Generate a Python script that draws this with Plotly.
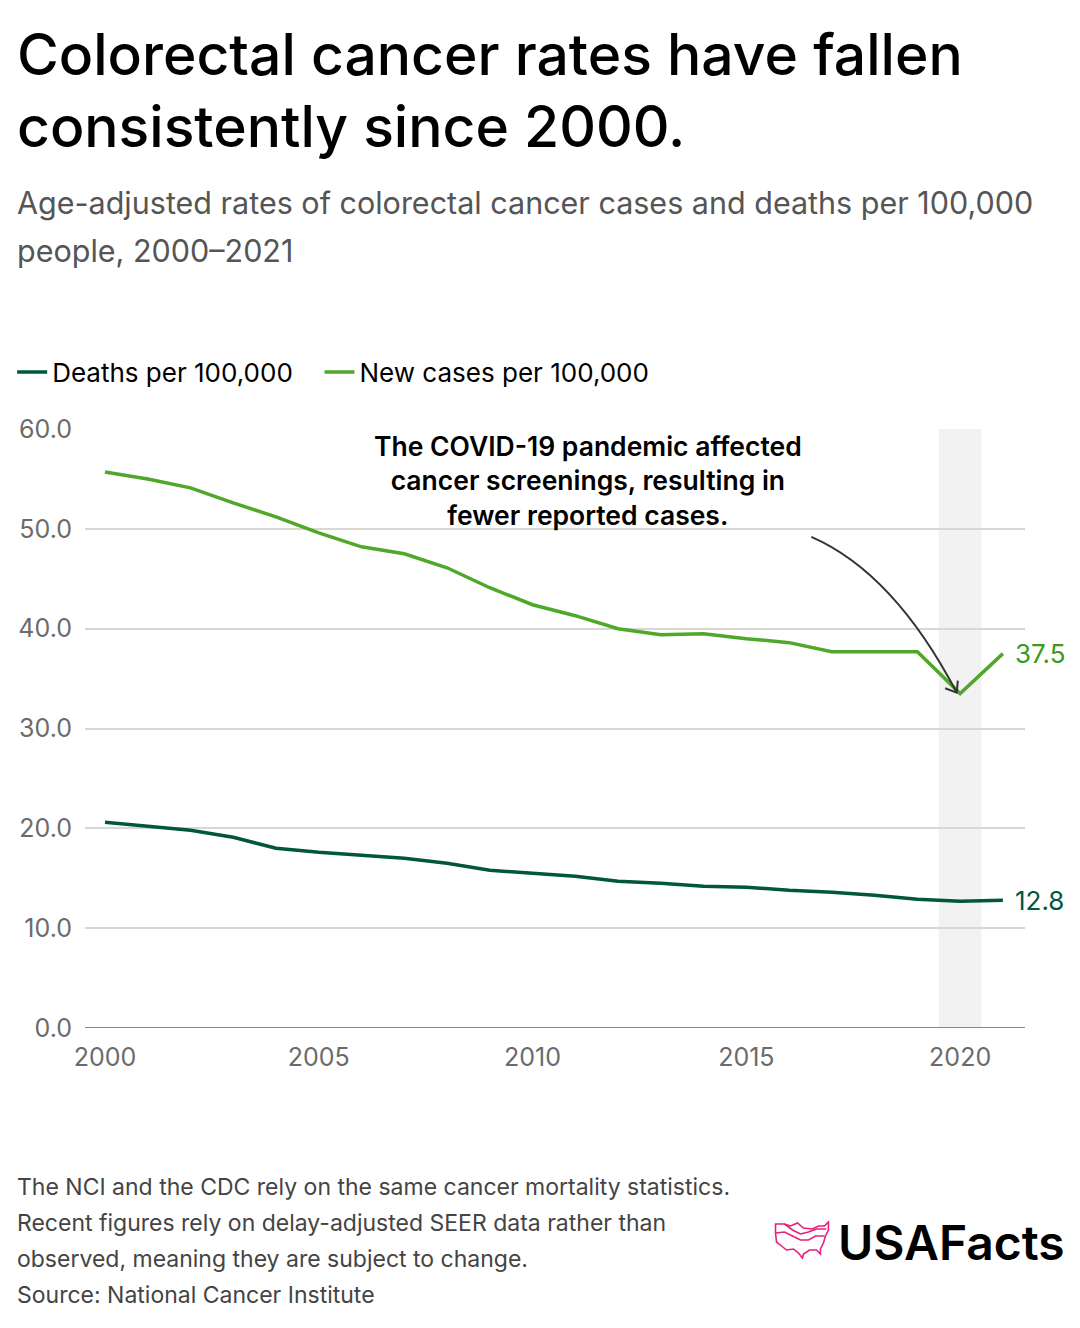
import plotly.graph_objects as go

years = list(range(2000, 2022))
new_cases = [55.7, 55.0, 54.1, 52.6, 51.2, 49.6, 48.2, 47.5, 46.1, 44.1, 42.4,
             41.3, 40.0, 39.4, 39.5, 39.0, 38.6, 37.7, 37.7, 37.7, 33.5, 37.5]
deaths = [20.6, 20.2, 19.8, 19.1, 18.0, 17.6, 17.3, 17.0, 16.5, 15.8, 15.5,
          15.2, 14.7, 14.5, 14.2, 14.1, 13.8, 13.6, 13.3, 12.9, 12.7, 12.8]
y_ticks = [0, 10, 20, 30, 40, 50, 60]
x_ticks = [2000, 2005, 2010, 2015, 2020]

title_lines = ["Colorectal cancer rates have fallen", "consistently since 2000."]
subtitle_lines = ["Age-adjusted rates of colorectal cancer cases and deaths per 100,000",
                  "people, 2000–2021"]
footer_lines = ["The NCI and the CDC rely on the same cancer mortality statistics.",
                "Recent figures rely on delay-adjusted SEER data rather than",
                "observed, meaning they are subject to change.",
                "Source: National Cancer Institute"]
note_text = "The COVID-19 pandemic affected<br>cancer screenings, resulting in<br>fewer reported cases."

FONT = "Inter"
DEATH_C = "#00573D"
CASE_C = "#4FA829"
CASE_LABEL_C = "#3B9A1C"

W, H = 1080, 1328
L, R, T, B = 83, 1025, 429, 1028  # plot area pixels


def px(x):
    return (x - L) / (R - L)


def py(y):
    return (B - y) / (B - T)


fig = go.Figure()
fig.add_trace(go.Scatter(x=years, y=deaths, mode="lines", name="Deaths per 100,000",
                         line=dict(color=DEATH_C, width=3.5), cliponaxis=False, legend="legend"))
fig.add_trace(go.Scatter(x=years, y=new_cases, mode="lines", name="New cases per 100,000",
                         line=dict(color=CASE_C, width=3.5), cliponaxis=False, legend="legend2"))

annotations = []
for i, t in enumerate(title_lines):
    annotations.append(dict(text=t, x=px(13), y=py(54 + 72 * i), xref="paper", yref="paper",
                            xanchor="left", yanchor="middle", showarrow=False,
                            font=dict(family=FONT, size=57, color="#000000", weight=500)))
for i, t in enumerate(subtitle_lines):
    annotations.append(dict(text=t, x=px(13), y=py(203 + 47 * i), xref="paper", yref="paper",
                            xanchor="left", yanchor="middle", showarrow=False,
                            font=dict(family=FONT, size=30.5, color="#555555")))
for i, t in enumerate(footer_lines):
    annotations.append(dict(text=t, x=px(13), y=py(1187 + 36 * i), xref="paper", yref="paper",
                            xanchor="left", yanchor="middle", showarrow=False,
                            font=dict(family=FONT, size=23, color="#444444")))
annotations.append(dict(text=note_text, x=2011.3, y=py(480), xref="x", yref="paper",
                        xanchor="center", yanchor="middle", showarrow=False, align="center",
                        font=dict(family=FONT, size=26.5, color="#000000", weight=600)))
annotations.append(dict(text=f"{new_cases[-1]:.1f}", x=years[-1], y=new_cases[-1], xref="x", yref="y",
                        xanchor="left", yanchor="middle", xshift=10, showarrow=False,
                        font=dict(family=FONT, size=26, color=CASE_LABEL_C)))
annotations.append(dict(text=f"{deaths[-1]:.1f}", x=years[-1], y=deaths[-1], xref="x", yref="y",
                        xanchor="left", yanchor="middle", xshift=10, showarrow=False,
                        font=dict(family=FONT, size=26, color=DEATH_C)))
annotations.append(dict(text="USAFacts", x=px(836), y=py(1242), xref="paper", yref="paper",
                        xanchor="left", yanchor="middle", showarrow=False,
                        font=dict(family=FONT, size=48, color="#000000", weight=600)))

shapes = []
shapes.append(dict(type="rect", xref="x", yref="paper", x0=2019.5, x1=2020.5, y0=0, y1=1,
                   fillcolor="#F2F2F2", line=dict(width=0), layer="below"))
shapes.append(dict(type="path", xref="x", yref="y",
                   path="M 2016.52,49.2 Q 2018.45,45.6 2019.92,33.6",
                   line=dict(color="#333333", width=2)))
shapes.append(dict(type="path", xref="x", yref="y",
                   path="M 2019.65,34.03 L 2019.92,33.59 L 2019.946,34.79",
                   line=dict(color="#333333", width=2)))


def ppath(points, close=False):
    s = "M " + " L ".join(f"{px(x):.5f},{py(y):.5f}" for x, y in points)
    return s + (" Z" if close else "")


outline = [(775, 1224), (784, 1224), (790, 1226), (797, 1223), (803, 1228), (812, 1229),
           (818, 1226), (824, 1226), (828, 1222), (828, 1230), (825, 1236), (823, 1243),
           (820, 1249), (820, 1254), (816, 1250), (809, 1250), (803, 1254), (802, 1258),
           (798, 1253), (793, 1249), (786, 1250), (781, 1246), (776, 1242), (775, 1233)]
shapes.append(dict(type="path", xref="paper", yref="paper", path=ppath(outline, True),
                   line=dict(color="#E8207E", width=1.6)))
wave1 = [(775, 1233), (784, 1232), (792, 1236), (800, 1240), (808, 1240), (815, 1236), (824, 1236)]
wave2 = [(784, 1224), (792, 1230), (800, 1234), (808, 1232), (816, 1229), (826, 1229)]
shapes.append(dict(type="path", xref="paper", yref="paper", path=ppath(wave1),
                   line=dict(color="#E8207E", width=1.6)))
shapes.append(dict(type="path", xref="paper", yref="paper", path=ppath(wave2),
                   line=dict(color="#E8207E", width=1.6)))

legend_style = dict(orientation="h", yanchor="middle", xanchor="left", itemwidth=30,
                    font=dict(family=FONT, size=26, color="#000000"),
                    bgcolor="rgba(0,0,0,0)")

ppy = 42.85
fig.update_layout(
    width=W, height=H,
    margin=dict(l=L, r=W - R, t=T, b=H - B, pad=0),
    paper_bgcolor="white", plot_bgcolor="white",
    font=dict(family=FONT),
    showlegend=True,
    legend=dict(x=px(10), y=py(372), **legend_style),
    legend2=dict(x=px(318), y=py(372), **legend_style),
    xaxis=dict(range=[2000 - (103 - L) / ppy, 2000 + (R - 103) / ppy], tickvals=x_ticks,
               ticktext=[str(v) for v in x_ticks], showgrid=False, zeroline=False,
               showline=False, ticks="", ticklabelstandoff=12,
               tickfont=dict(family=FONT, size=25, color="#6B6B6B")),
    yaxis=dict(range=[0, 60], tickvals=y_ticks, ticktext=[f"{v:.1f}" for v in y_ticks],
               showgrid=True, gridcolor="#D8D8D0", gridwidth=1.5, zeroline=False,
               showline=False, ticks="", ticklabelstandoff=12,
               tickfont=dict(family=FONT, size=25, color="#6B6B6B")),
    annotations=annotations,
    shapes=shapes,
)
fig.add_shape(type="line", xref="paper", yref="y", x0=0, x1=1, y0=0, y1=0,
              line=dict(color="#8A8A82", width=2))

fig.write_html("out.html")
